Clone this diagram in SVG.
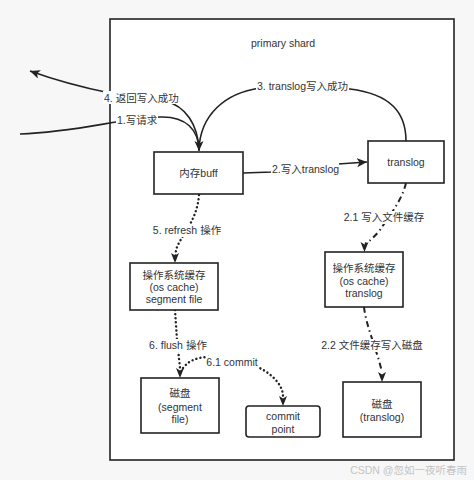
<svg xmlns="http://www.w3.org/2000/svg" width="474" height="480" viewBox="0 0 474 480">
<style>
text{font-family:"Liberation Sans","Noto Sans CJK SC",sans-serif;font-size:10.5px;fill:#333}
.c{text-anchor:middle}
.box{fill:#fff;stroke:#222;stroke-width:1.6}
.e{fill:none;stroke:#222;stroke-width:1.6}
.dot{fill:none;stroke:#222;stroke-width:2.4;stroke-linecap:round;stroke-dasharray:0.1 4}
.dd{fill:none;stroke:#222;stroke-width:2;stroke-dasharray:6 3.5 1.5 3.5}
.lb{fill:#fff}
.ah{fill:#222}
</style>
<defs>
<marker id="ah" markerUnits="userSpaceOnUse" markerWidth="12" markerHeight="10" refX="10" refY="4.5" orient="auto">
<path d="M0,0 L10,4.5 L0,9 L2.5,4.5 Z" fill="#222"/>
</marker>
</defs>
<rect x="0" y="0" width="474" height="480" fill="#f7f7f7"/>
<rect id="frame" x="110" y="19" width="344" height="441" fill="#fff" stroke="#222" stroke-width="1.6"/>
<text x="251" y="47">primary shard</text>

<g id="connectors">
<path class="e" d="M20,134 C80,132 120,118 160,117 C186,116 199,130 199,151" marker-end="url(#ah)"/>
<path class="e" d="M199,150 C198,125 186,106 165,101 L110,93 C80,87 55,80 30,71" marker-end="url(#ah)"/>
<path class="e" d="M406,141 C406,112 390,94 350,89 L260,88 C225,93 200,115 199,150"/>
<path class="e" d="M243,173 L272,172 L338,164 L367,162" marker-end="url(#ah)"/>
<path class="dot" d="M199,195 C197,222 180,236 176,250 L175,260"/>
<path class="dot" d="M175,310 L177,340 L180,368"/>
<path class="dot" d="M183,368 C190,359 200,357 210,357 L250,364 C271,371 283,385 283,396"/>
<path class="dd" d="M406,183 C402,200 390,215 380,230 C372,240 365,244 365,244"/>
<path class="dd" d="M364,307 C366,325 375,345 381,368 L382,372"/>
<path class="ah" d="M171,253 L175,263 L179,253 L175,255.5 Z"/>
<path class="ah" d="M176,368 L180,378 L184,368 L180,370.5 Z"/>
<path class="ah" d="M279,396 L283,406 L287,396 L283,398.5 Z"/>
<path class="ah" d="M360.5,242 L364.5,252 L368.5,242 L364.5,244.5 Z"/>
<path class="ah" d="M378,372 L382,382 L386,372 L382,374.5 Z"/>
</g>

<g id="labels">
<rect class="lb" x="103" y="91" width="75" height="13"/>
<text x="104" y="102">4. 返回写入成功</text>
<rect class="lb" x="116" y="114" width="42" height="13"/>
<text x="117" y="124">1.写请求</text>
<rect class="lb" x="256" y="80" width="93" height="13"/>
<text x="257" y="90">3. translog写入成功</text>
<rect class="lb" x="271" y="163" width="68" height="13"/>
<text x="272" y="173">2.写入translog</text>
<rect class="lb" x="152" y="224" width="70" height="13"/>
<text class="c" x="187" y="234">5. refresh 操作</text>
<rect class="lb" x="148" y="339" width="60" height="13"/>
<text class="c" x="178" y="349">6. flush 操作</text>
<rect class="lb" x="206" y="356" width="52" height="13"/>
<text class="c" x="232" y="366">6.1 commit</text>
<rect class="lb" x="345" y="211" width="79" height="13"/>
<text class="c" x="384" y="221">2.1 写入文件缓存</text>
<rect class="lb" x="322" y="339" width="101" height="13"/>
<text class="c" x="372" y="349">2.2 文件缓存写入磁盘</text>
</g>

<g id="buff"><rect class="box" x="154" y="152" width="89" height="42"/><text class="c" x="198.5" y="177">内存buff</text></g>
<g id="translog"><rect class="box" x="368" y="141" width="76" height="42"/><text class="c" x="406" y="166">translog</text></g>
<g id="oscache-seg"><rect class="box" x="130" y="263" width="88" height="47"/>
<text class="c" x="174" y="279">操作系统缓存</text><text class="c" x="174" y="291">(os cache)</text><text class="c" x="174" y="303">segment file</text></g>
<g id="oscache-tl"><rect class="box" x="325" y="252" width="78" height="55"/>
<text class="c" x="364" y="272">操作系统缓存</text><text class="c" x="364" y="285">(os cache)</text><text class="c" x="364" y="297">translog</text></g>
<g id="disk-seg"><rect class="box" x="141" y="378" width="78" height="55"/>
<text class="c" x="180" y="397">磁盘</text><text class="c" x="180" y="411">(segment</text><text class="c" x="180" y="423">file)</text></g>
<g id="commit-point"><rect class="box" x="246" y="406" width="74" height="31" rx="3"/>
<text class="c" x="283" y="420">commit</text><text class="c" x="283" y="433">point</text></g>
<g id="disk-tl"><rect class="box" x="343" y="382" width="78" height="55"/>
<text class="c" x="382" y="408">磁盘</text><text class="c" x="382" y="421">(translog)</text></g>

<text x="467" y="474" text-anchor="end" style="fill:#c4c4c4;font-size:10.5px">CSDN @忽如一夜听春雨</text>
</svg>
